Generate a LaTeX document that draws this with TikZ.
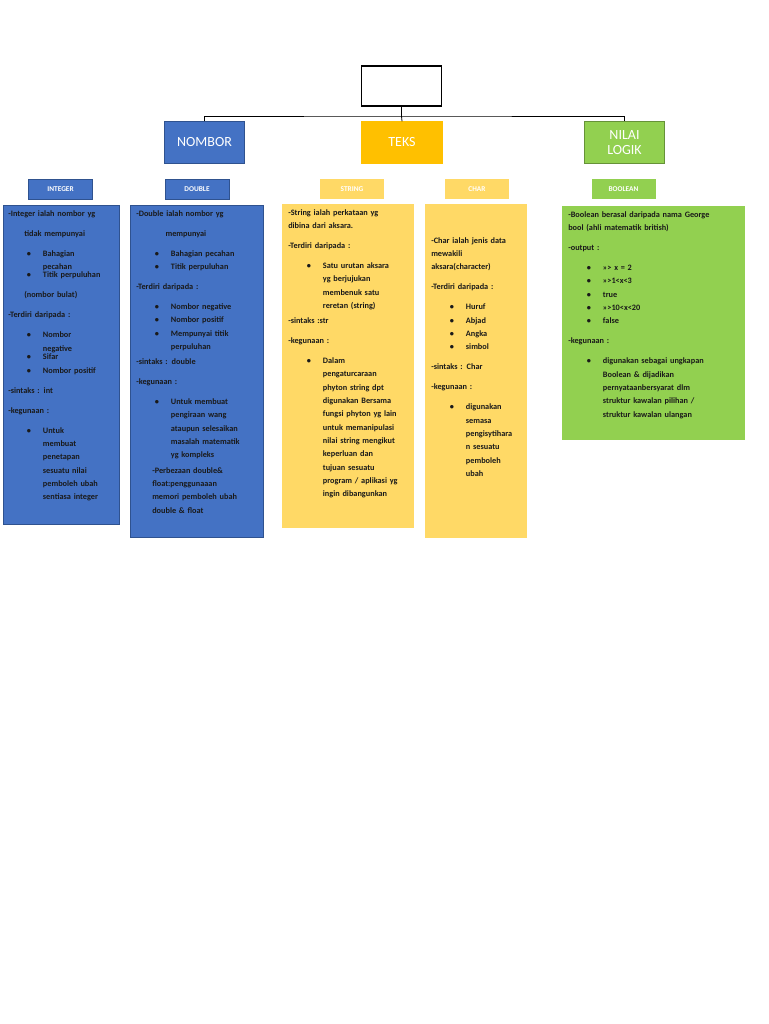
\documentclass[tikz,border=0pt]{standalone}
\usepackage{fontspec}
\setmainfont{Carlito}
\definecolor{blu}{HTML}{4472C4}
\definecolor{blubd}{HTML}{2F528F}
\definecolor{yel}{HTML}{FFC000}
\definecolor{yell}{HTML}{FFD966}
\definecolor{grn}{HTML}{92D050}
\definecolor{txt}{HTML}{1A1A1A}
\newlength\bi \newlength\bw
\setlength\bi{14pt}\setlength\bw{12pt}
\newcommand\bul[1]{\par\noindent\hspace*{\bi}\makebox[\bw][l]{\textbullet}\parbox[t]{\dimexpr\linewidth-\bi-\bw\relax}{#1}}
\newcommand\gap{\par\vspace{5pt}}
\tikzset{
 head/.style={draw=#1, line width=0.8pt, minimum width=60pt, minimum height=31pt, font=\fontsize{10.5}{12}\selectfont, align=center},
 lab/.style={minimum width=48pt, minimum height=15pt, font=\bfseries\fontsize{5.5}{6}\selectfont, text=white, inner sep=0pt},
 body/.style={anchor=north west, text width=#1, align=left, font=\bfseries\fontsize{6.2}{10}\selectfont, text=txt, inner sep=0pt},
 conn/.style={draw=black, line width=0.6pt}
}
\begin{document}
\begin{tikzpicture}[x=0.75pt,y=-0.75pt]
\useasboundingbox (0,0) rectangle (768,1024);
\fill[white] (0,0) rectangle (768,1024);
% top box
\node[draw=black, line width=0.8pt, minimum width=60pt, minimum height=30pt] (top) at (401.5,86) {};
\node[head=blubd, fill=blu, text=white] (nombor) at (204.5,142.5) {NOMBOR};
\node[head=yel, fill=yel, text=white] (teks) at (402,142.5) {TEKS};
\node[head=grn!70!black, fill=grn, text=white, font=\fontsize{10.5}{11}\selectfont] (logik) at (624.5,142.5) {NILAI\\LOGIK};
\coordinate (j) at (401.5,116);
\draw[conn] (top.south) -- (j);
\draw[conn] (nombor.north) |- (j) -| (logik.north);
\draw[conn] (j) -- (teks.north);
% labels
\node[lab, fill=blu, draw=blubd] (lint) at (60.5,189) {INTEGER};
\node[lab, fill=blu, draw=blubd] (ldbl) at (197,189) {DOUBLE};
\node[lab, fill=yell] (lstr) at (352,189) {STRING};
\node[lab, fill=yell] (lchr) at (477,189) {CHAR};
\node[lab, fill=grn] (lbool) at (623.5,189) {BOOLEAN};
% big boxes
\draw[fill=blu, draw=blubd, line width=0.6pt] (3,205) rectangle (119,524);
\draw[fill=blu, draw=blubd, line width=0.6pt] (130,205) rectangle (263,537);
\fill[yell] (282,204) rectangle (414,528);
\fill[yell] (425,204) rectangle (527,538);
\fill[grn] (562,206) rectangle (745,440);
% INTEGER text
\node[body=81pt] (tint) at (8,210) {%
-Integer ialah nombor yg\par\vspace{5pt}
\hspace*{12pt}tidak mempunyai\gap
\bul{Bahagian\\pecahan}
\bul{Titik perpuluhan}\gap
\hspace*{12pt}(nombor bulat)\gap
-Terdiri daripada :\gap
\bul{Nombor\\negative}
\bul{Sifar}
\bul{Nombor positif}\gap
-sintaks : int\gap
-kegunaan :\gap
\bul{Untuk\\membuat\\penetapan\\sesuatu nilai\\pemboleh ubah\\sentiasa integer}};
% DOUBLE text
\node[body=94pt] (tdbl) at (136,210) {%
-Double ialah nombor yg\par\vspace{5pt}
\hspace*{22pt}mempunyai\gap
\bul{Bahagian pecahan}
\bul{Titik perpuluhan}\gap
-Terdiri daripada :\gap
\bul{Nombor negative}
\bul{Nombor positif}
\bul{Mempunyai titik\\perpuluhan}\gap
-sintaks : double\gap
-kegunaan :\gap
\bul{Untuk membuat\\pengiraan wang\\ataupun selesaikan\\masalah matematik\\yg kompleks}\gap
\hspace*{12pt}-Perbezaan double\&\\
\hspace*{12pt}float:penggunaaan\\
\hspace*{12pt}memori pemboleh ubah\\
\hspace*{12pt}double \& float};
% STRING text
\node[body=92pt] (tstr) at (288,209) {%
-String ialah perkataan yg\\dibina dari aksara.\gap
-Terdiri daripada :\gap
\bul{Satu urutan aksara\\yg berjujukan\\membenuk satu\\reretan (string)}\gap
-sintaks :str\gap
-kegunaan :\gap
\bul{Dalam\\pengaturcaraan\\phyton\ string dpt\\digunakan Bersama\\fungsi phyton yg lain\\untuk memanipulasi\\nilai string mengikut\\keperluan dan\\tujuan sesuatu\\program / aplikasi yg\\ingin dibangunkan}};
% CHAR text
\node[body=72pt] (tchr) at (431,237) {%
-Char ialah jenis data\\mewakili\\aksara(character)\gap
-Terdiri daripada :\gap
\bul{Huruf}
\bul{Abjad}
\bul{Angka}
\bul{simbol}\gap
-sintaks : Char\gap
-kegunaan :\gap
\bul{digunakan\\semasa\\pengisytihara\\n sesuatu\\pemboleh\\ubah}};
% BOOLEAN text
\node[body=130pt] (tbool) at (568,211) {%
-Boolean berasal daripada nama George\\bool (ahli matematik british)\gap
-output :\gap
\bul{>>> x = 2}
\bul{>>>1<x<3}
\bul{true}
\bul{>>>10<x<20}
\bul{false}\gap
-kegunaan :\gap
\bul{digunakan sebagai ungkapan\\Boolean \& dijadikan\\pernyataanbersyarat dlm\\struktur kawalan pilihan /\\struktur kawalan ulangan}};
\end{tikzpicture}
\end{document}
